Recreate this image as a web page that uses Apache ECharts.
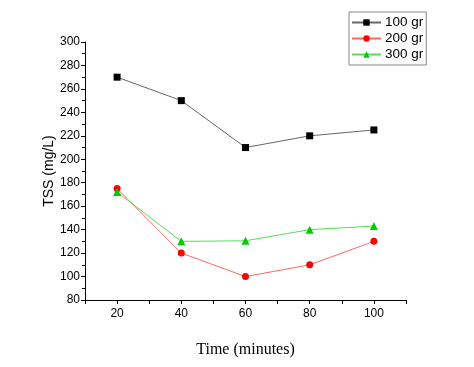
<!DOCTYPE html>
<html><head><meta charset="utf-8">
<script src="https://cdn.jsdelivr.net/npm/echarts@6/dist/echarts.min.js"></script>
<style>html,body{margin:0;padding:0;background:#fff}#c{width:474px;height:367px}</style>
</head><body><div id="c"></div>
<script>
var times = [20, 40, 60, 80, 100];
var s100 = [270, 250, 210, 220, 225];
var s200 = [175, 120, 100, 110, 130];
var s300 = [172, 130, 130.5, 140, 143];
var names = ['100 gr', '200 gr', '300 gr'];

function pairs(v){ return times.map(function(t,i){ return [t, v[i]]; }); }

var chart = echarts.init(document.getElementById('c'), null, {renderer:'canvas'});
chart.setOption({
  animation:false,
  backgroundColor:'#fff',
  grid:{left:85, right:68, top:42, bottom:67},
  legend:{
    orient:'vertical', left:349, top:12,
    itemWidth:29, itemHeight:8, itemGap:1,
    padding:[3,3,3,2],
    borderColor:'#888', borderWidth:1,
    textStyle:{fontFamily:'Liberation Sans', fontSize:13.5, lineHeight:15, color:'#000', padding:[0,0,0,-1]},
    data:names
  },
  xAxis:{
    type:'value', min:10, max:110, interval:10,
    name:'Time (minutes)', nameLocation:'middle', nameGap:42,
    nameTextStyle:{fontFamily:'Liberation Serif', fontSize:16, color:'#000'},
    axisLine:{lineStyle:{color:'#000', width:1}},
    axisTick:{length:4, lineStyle:{color:'#000'}},
    axisLabel:{fontFamily:'Liberation Sans', fontSize:12, color:'#000', margin:8,
      formatter:function(v){ return (v % 20 === 0 && v>=20 && v<=100) ? String(v) : ''; }},
    splitLine:{show:false}
  },
  yAxis:{
    type:'value', min:80, max:300, interval:20,
    name:'TSS (mg/L)', nameLocation:'middle', nameGap:29, nameRotate:90,
    nameMoveOverlap:false,
    nameTextStyle:{fontFamily:'Liberation Sans', fontSize:14, color:'#000'},
    axisLine:{show:true, lineStyle:{color:'#000', width:1}},
    axisTick:{show:true, length:4, lineStyle:{color:'#000'}},
    minorTick:{show:true, splitNumber:2, length:3, lineStyle:{color:'#000'}},
    axisLabel:{fontFamily:'Liberation Sans', fontSize:12, color:'#000', margin:5},
    splitLine:{show:false}
  },
  series:[
    {name:names[0], type:'line', data:pairs(s100), symbol:'rect', symbolSize:7,
     itemStyle:{color:'#000'}, lineStyle:{color:'#666', width:1}},
    {name:names[1], type:'line', data:pairs(s200), symbol:'circle', symbolSize:7,
     itemStyle:{color:'#f00'}, lineStyle:{color:'#f66', width:1}},
    {name:names[2], type:'line', data:pairs(s300), symbol:'triangle', symbolSize:8,
     itemStyle:{color:'#0c0'}, lineStyle:{color:'#5d5', width:1}}
  ]
});
</script></body></html>
